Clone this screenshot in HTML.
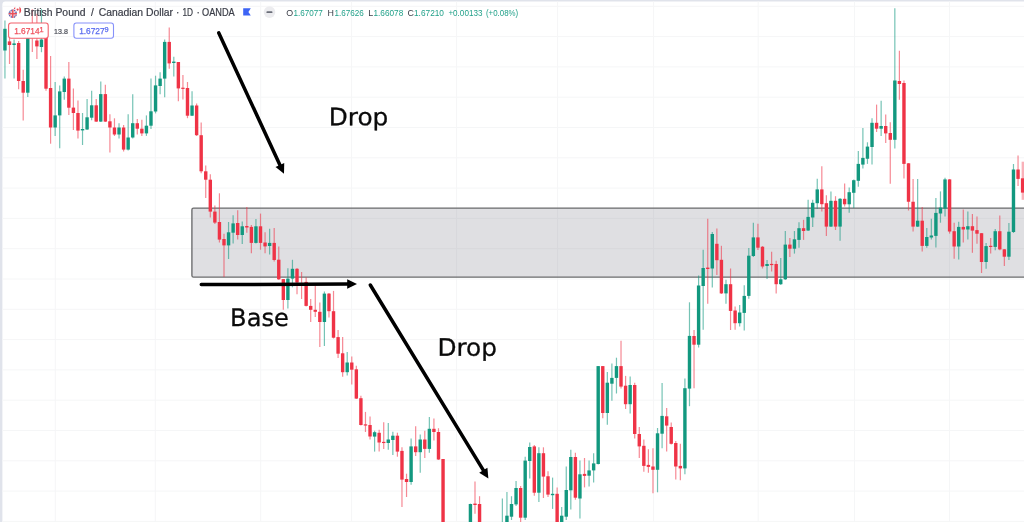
<!DOCTYPE html>
<html lang="en"><head><meta charset="utf-8"><title>GBPCAD Drop Base Drop</title>
<style>
html,body{margin:0;padding:0;background:#e0e3eb;}
body{width:1024px;height:522px;overflow:hidden;font-family:"Liberation Sans",sans-serif;}
svg{display:block;}
.t{font-family:"Liberation Sans",sans-serif;font-size:10.1px;}
.o{font-family:"Liberation Sans",sans-serif;font-size:8.9px;}
.big{font-family:"DejaVu Sans","Liberation Sans",sans-serif;font-size:24px;fill:#0a0a0a;stroke:#0a0a0a;stroke-width:0.3px;}
</style></head><body>
<svg width="1024" height="522" viewBox="0 0 1024 522">
<rect x="0" y="0" width="1024" height="522" fill="#e0e3eb"/>
<path d="M2.4 4.5 Q2.4 1.4 5.4 1.4 H1024 V522 H2.4 Z" fill="#ffffff"/>
<g stroke="#f5f6f7" stroke-width="1" fill="none">
<line x1="2.4" x2="1024" y1="6.3" y2="6.3"/>
<line x1="2.4" x2="1024" y1="36.6" y2="36.6"/>
<line x1="2.4" x2="1024" y1="66.9" y2="66.9"/>
<line x1="2.4" x2="1024" y1="97.2" y2="97.2"/>
<line x1="2.4" x2="1024" y1="127.5" y2="127.5"/>
<line x1="2.4" x2="1024" y1="157.8" y2="157.8"/>
<line x1="2.4" x2="1024" y1="188.1" y2="188.1"/>
<line x1="2.4" x2="1024" y1="218.4" y2="218.4"/>
<line x1="2.4" x2="1024" y1="248.7" y2="248.7"/>
<line x1="2.4" x2="1024" y1="279" y2="279"/>
<line x1="2.4" x2="1024" y1="309.3" y2="309.3"/>
<line x1="2.4" x2="1024" y1="339.6" y2="339.6"/>
<line x1="2.4" x2="1024" y1="369.9" y2="369.9"/>
<line x1="2.4" x2="1024" y1="400.2" y2="400.2"/>
<line x1="2.4" x2="1024" y1="430.5" y2="430.5"/>
<line x1="2.4" x2="1024" y1="460.8" y2="460.8"/>
<line x1="2.4" x2="1024" y1="491.1" y2="491.1"/>
<line x1="2.4" x2="1024" y1="521.4" y2="521.4"/>
<line y1="1.5" y2="522" x1="55.3" x2="55.3"/>
<line y1="1.5" y2="522" x1="155.3" x2="155.3"/>
<line y1="1.5" y2="522" x1="260.7" x2="260.7"/>
<line y1="1.5" y2="522" x1="351.6" x2="351.6"/>
<line y1="1.5" y2="522" x1="456.6" x2="456.6"/>
<line y1="1.5" y2="522" x1="557.6" x2="557.6"/>
<line y1="1.5" y2="522" x1="653.6" x2="653.6"/>
<line y1="1.5" y2="522" x1="758.2" x2="758.2"/>
<line y1="1.5" y2="522" x1="854.5" x2="854.5"/>
<line y1="1.5" y2="522" x1="949.5" x2="949.5"/>
</g>
<rect x="191.9" y="208.1" width="840" height="69" rx="1.6" fill="#787b86" fill-opacity="0.24" stroke="#6a6b6c" stroke-width="1.35"/>
<g stroke="#12987f" stroke-width="1.2" stroke-opacity="0.58" fill="none"><path d="M4.95 20.5V78.6"/><path d="M14.08 39.5V78.6"/><path d="M27.77 30V97"/><path d="M41.46 8.8V52.2"/><path d="M55.15 82V135.9"/><path d="M59.71 85.4V148.2"/><path d="M64.28 76.6V99.8"/><path d="M82.53 113V145"/><path d="M87.09 98.9V130"/><path d="M91.66 90.8V120.3"/><path d="M100.78 81.5V122"/><path d="M119.04 123.2V138.4"/><path d="M128.16 114.3V150.5"/><path d="M132.73 94.2V138.4"/><path d="M146.42 115.4V135.9"/><path d="M150.98 78.6V129"/><path d="M155.55 75.7V113.4"/><path d="M160.11 72.3V94.2"/><path d="M164.67 39.5V97.2"/><path d="M173.8 56.7V76.6"/><path d="M192.05 91.2V116"/><path d="M228.56 222V259"/><path d="M233.12 215.2V243.5"/><path d="M242.25 221.6V244"/><path d="M255.94 219V243.5"/><path d="M269.63 228.8V254.6"/><path d="M287.89 268.2V308.4"/><path d="M292.45 259.8V287.3"/><path d="M324.4 291.6V346"/><path d="M347.21 352V375.5"/><path d="M374.59 430.7V451.6"/><path d="M388.28 423V449.7"/><path d="M392.85 431.7V455"/><path d="M411.1 438.6V484.8"/><path d="M420.23 434.6V472.7"/><path d="M429.36 417V452.8"/><path d="M470.43 503.6V545"/><path d="M502.37 498.5V545"/><path d="M506.94 491.9V535"/><path d="M511.5 496.2V520"/><path d="M516.06 481V506"/><path d="M525.19 456.7V520"/><path d="M529.75 442.5V478.6"/><path d="M538.88 447.3V502"/><path d="M552.57 477.6V508.9"/><path d="M561.7 507V535"/><path d="M566.26 466.5V520"/><path d="M570.82 449.7V509.5"/><path d="M579.95 460.6V518.6"/><path d="M589.08 460.6V486.4"/><path d="M593.64 453.2V482.5"/><path d="M598.21 366V464.5"/><path d="M607.33 372V424.8"/><path d="M611.9 363.6V400.7"/><path d="M616.46 357.7V393.5"/><path d="M630.15 376.5V413.6"/><path d="M657.53 428V492.3"/><path d="M662.09 383.1V448.3"/><path d="M684.91 378.4V474.3"/><path d="M689.48 302.3V406.2"/><path d="M698.6 275.4V347.6"/><path d="M703.17 249.7V329.7"/><path d="M712.29 232V287.5"/><path d="M725.98 279.7V303.7"/><path d="M739.67 305V326.5"/><path d="M744.24 285.2V330.5"/><path d="M748.8 248V298.8"/><path d="M753.36 222.7V257"/><path d="M767.05 260.1V278.9"/><path d="M780.75 257.9V285"/><path d="M785.31 231V280"/><path d="M794.44 231V253.6"/><path d="M799 222.3V247.7"/><path d="M808.13 199.7V231"/><path d="M812.69 199.7V227"/><path d="M817.25 178.8V209"/><path d="M830.94 191.4V227"/><path d="M840.07 198V240.8"/><path d="M849.2 187.4V212.8"/><path d="M853.76 179.5V208.1"/><path d="M858.32 151V186.7"/><path d="M862.89 128V168.5"/><path d="M867.45 142.3V163.9"/><path d="M872.02 118.3V164.6"/><path d="M881.14 100.7V135.9"/><path d="M894.83 8.2V148.6"/><path d="M917.65 178.9V227"/><path d="M926.78 228.1V247.7"/><path d="M931.34 218.75V239.5"/><path d="M935.9 197.9V247.5"/><path d="M940.47 191.4V222.7"/><path d="M945.03 177.7V216.4"/><path d="M958.72 221.7V259.5"/><path d="M967.85 211.5V239.5"/><path d="M986.1 242.9V268.8"/><path d="M995.23 228.9V250.3"/><path d="M1008.92 223.1V260"/><path d="M1013.48 164V233"/></g>
<g stroke="#ef3346" stroke-width="1.2" stroke-opacity="0.58" fill="none"><path d="M9.51 36V64"/><path d="M18.64 41V89.3"/><path d="M23.2 69.8V120.5"/><path d="M32.33 9.3V52"/><path d="M36.89 13.7V59"/><path d="M46.02 35V90.7"/><path d="M50.59 56V143.7"/><path d="M68.84 62V115"/><path d="M73.4 88.4V130"/><path d="M77.97 100.6V138.4"/><path d="M96.22 98.9V122"/><path d="M105.35 84.8V122"/><path d="M109.91 114.3V152.5"/><path d="M114.47 118.3V136"/><path d="M123.6 125V151.5"/><path d="M137.29 118.9V134.5"/><path d="M141.85 119.7V135.9"/><path d="M169.24 27.4V68.8"/><path d="M178.36 62V101.2"/><path d="M182.93 75V99.5"/><path d="M187.49 82V118.2"/><path d="M196.62 103.4V136"/><path d="M201.18 122.5V173.2"/><path d="M205.74 165.4V198"/><path d="M210.31 174.2V217.5"/><path d="M214.87 205.4V224"/><path d="M219.43 193.3V242.5"/><path d="M224 233.7V277"/><path d="M237.69 210.3V239.6"/><path d="M246.82 207V232.7"/><path d="M251.38 225V253.2"/><path d="M260.51 213.6V249.7"/><path d="M265.07 232.3V253.2"/><path d="M274.2 227.9V261.6"/><path d="M278.76 246.4V280"/><path d="M283.32 279V309.8"/><path d="M297.01 268V294.2"/><path d="M301.58 272V299"/><path d="M306.14 277.2V306.5"/><path d="M310.7 299V322"/><path d="M315.27 285.4V317"/><path d="M319.83 302.6V347"/><path d="M328.96 293V317.6"/><path d="M333.52 290.9V338.5"/><path d="M338.09 330V358"/><path d="M342.65 337.1V376.7"/><path d="M351.78 356.6V384.5"/><path d="M356.34 365.8V399"/><path d="M360.9 395.7V425.5"/><path d="M365.47 411.9V432"/><path d="M370.03 416.6V439.4"/><path d="M379.16 429.8V451.6"/><path d="M383.72 422.3V448.9"/><path d="M397.41 432.7V456.7"/><path d="M401.97 447.3V507"/><path d="M406.54 473.7V497"/><path d="M415.67 426.3V456"/><path d="M424.79 430.7V458"/><path d="M433.92 418.5V440.5"/><path d="M438.48 428.2V460"/><path d="M443.05 459V545"/><path d="M474.99 481.5V513.75"/><path d="M479.55 496.2V545"/><path d="M520.63 486V523"/><path d="M534.32 445V495.8"/><path d="M543.44 447.3V498"/><path d="M548.01 471.2V497"/><path d="M557.13 487.4V535"/><path d="M575.39 452.8V499.7"/><path d="M584.51 458V487.4"/><path d="M602.77 366V418.3"/><path d="M621.02 340.7V388.6"/><path d="M625.59 375.9V409"/><path d="M634.71 382.7V438.5"/><path d="M639.28 427V458"/><path d="M643.84 439.5V471.75"/><path d="M648.4 449.3V472.7"/><path d="M652.97 448.3V493.2"/><path d="M666.66 408.1V451.6"/><path d="M671.22 422.5V444.5"/><path d="M675.78 441V479.6"/><path d="M680.35 443.8V480.2"/><path d="M694.04 330V388.2"/><path d="M707.73 218.8V303.7"/><path d="M716.86 228.6V275"/><path d="M721.42 245.8V294"/><path d="M730.55 268.5V330"/><path d="M735.11 306.6V329.7"/><path d="M757.93 223.7V250"/><path d="M762.49 246V268.5"/><path d="M771.62 251.8V271.5"/><path d="M776.18 260.8V293.4"/><path d="M789.87 238V256.9"/><path d="M803.56 219.8V239.9"/><path d="M821.82 166.2V211.4"/><path d="M826.38 195.3V236"/><path d="M835.51 196.2V230"/><path d="M844.63 183.6V206.6"/><path d="M876.58 104.6V132"/><path d="M885.71 114.4V143"/><path d="M890.27 122.2V183.7"/><path d="M899.4 50.8V99.7"/><path d="M903.96 80.5V178.6"/><path d="M908.52 163V210.5"/><path d="M913.09 178.9V231.6"/><path d="M922.21 207V251.6"/><path d="M949.59 179V233.6"/><path d="M954.16 222.8V258.7"/><path d="M963.29 209.6V242.6"/><path d="M972.41 214V252.8"/><path d="M976.98 216.4V243.8"/><path d="M981.54 233V273"/><path d="M990.67 238.1V253.6"/><path d="M999.79 215.4V250.3"/><path d="M1004.36 249V265.9"/><path d="M1018.05 155.5V186.1"/><path d="M1022.91 161.7V199.8" stroke-width="2.6" stroke-opacity="0.38"/></g>
<g fill="#12987f"><rect x="3.25" y="28.8" width="3.4" height="21.7"/><rect x="12.38" y="43.4" width="3.4" height="1.6"/><rect x="26.07" y="34" width="3.4" height="58.7"/><rect x="39.76" y="39.5" width="3.4" height="7.5"/><rect x="53.45" y="115.4" width="3.4" height="12.1"/><rect x="58.01" y="91.4" width="3.4" height="24"/><rect x="62.58" y="78.6" width="3.4" height="13.4"/><rect x="80.83" y="129" width="3.4" height="1.4"/><rect x="85.39" y="117.3" width="3.4" height="12.2"/><rect x="89.96" y="105.3" width="3.4" height="12.4"/><rect x="99.08" y="94.1" width="3.4" height="27.5"/><rect x="117.34" y="127.5" width="3.4" height="7"/><rect x="126.46" y="137.5" width="3.4" height="12.1"/><rect x="131.03" y="123.2" width="3.4" height="14.3"/><rect x="144.72" y="125.7" width="3.4" height="7.7"/><rect x="149.28" y="111.3" width="3.4" height="14.4"/><rect x="153.85" y="85.4" width="3.4" height="26.1"/><rect x="158.41" y="78.6" width="3.4" height="7.4"/><rect x="162.97" y="41.9" width="3.4" height="36.7"/><rect x="172.1" y="61.6" width="3.4" height="1.4"/><rect x="190.35" y="105.5" width="3.4" height="10.2"/><rect x="226.86" y="232.3" width="3.4" height="13.1"/><rect x="231.43" y="223.4" width="3.4" height="9.3"/><rect x="240.55" y="226.3" width="3.4" height="8.7"/><rect x="254.24" y="226.3" width="3.4" height="16.6"/><rect x="267.93" y="242.9" width="3.4" height="3.1"/><rect x="286.19" y="278.6" width="3.4" height="21.4"/><rect x="290.75" y="268.8" width="3.4" height="9.8"/><rect x="322.7" y="293.6" width="3.4" height="28.4"/><rect x="345.51" y="362.5" width="3.4" height="9.7"/><rect x="372.89" y="432.2" width="3.4" height="4.4"/><rect x="386.58" y="439.5" width="3.4" height="3.5"/><rect x="391.15" y="435.7" width="3.4" height="4.3"/><rect x="409.4" y="446.4" width="3.4" height="35.6"/><rect x="418.53" y="439.5" width="3.4" height="12.7"/><rect x="427.66" y="428.8" width="3.4" height="20.1"/><rect x="468.73" y="504" width="3.4" height="36"/><rect x="500.67" y="525" width="3.4" height="15"/><rect x="505.24" y="515.7" width="3.4" height="14.3"/><rect x="509.8" y="504" width="3.4" height="12.7"/><rect x="514.36" y="488" width="3.4" height="16.4"/><rect x="523.49" y="460.6" width="3.4" height="57.1"/><rect x="528.05" y="447" width="3.4" height="14"/><rect x="537.18" y="453.2" width="3.4" height="39.5"/><rect x="550.87" y="493.8" width="3.4" height="1.4"/><rect x="560" y="515.7" width="3.4" height="14.3"/><rect x="564.56" y="490" width="3.4" height="26.7"/><rect x="569.12" y="457" width="3.4" height="33.3"/><rect x="578.25" y="474.3" width="3.4" height="24.2"/><rect x="587.38" y="470.4" width="3.4" height="5.3"/><rect x="591.94" y="463.4" width="3.4" height="7"/><rect x="596.5" y="366.1" width="3.4" height="97.9"/><rect x="605.63" y="382.7" width="3.4" height="30.3"/><rect x="610.2" y="377.9" width="3.4" height="5.8"/><rect x="614.76" y="366.1" width="3.4" height="11.8"/><rect x="628.45" y="385" width="3.4" height="19.2"/><rect x="655.83" y="433.3" width="3.4" height="36.5"/><rect x="660.39" y="415.9" width="3.4" height="17.8"/><rect x="683.21" y="388.2" width="3.4" height="80.2"/><rect x="687.78" y="335.9" width="3.4" height="52.7"/><rect x="696.9" y="285.5" width="3.4" height="59.2"/><rect x="701.47" y="268" width="3.4" height="18"/><rect x="710.59" y="234" width="3.4" height="34.5"/><rect x="724.28" y="284.2" width="3.4" height="9.2"/><rect x="737.97" y="312.5" width="3.4" height="10.7"/><rect x="742.54" y="295.9" width="3.4" height="17"/><rect x="747.1" y="255.7" width="3.4" height="40.2"/><rect x="751.66" y="237.4" width="3.4" height="18.6"/><rect x="765.35" y="264" width="3.4" height="2"/><rect x="779.05" y="279.3" width="3.4" height="4.9"/><rect x="783.61" y="244.6" width="3.4" height="34.7"/><rect x="792.74" y="239.3" width="3.4" height="9.4"/><rect x="797.3" y="228.2" width="3.4" height="11.7"/><rect x="806.43" y="216.9" width="3.4" height="13.6"/><rect x="810.99" y="202.8" width="3.4" height="14.7"/><rect x="815.55" y="189.4" width="3.4" height="13.8"/><rect x="829.24" y="200.8" width="3.4" height="25.8"/><rect x="838.37" y="198.8" width="3.4" height="27.8"/><rect x="847.5" y="192.2" width="3.4" height="12.1"/><rect x="852.06" y="180.2" width="3.4" height="12.6"/><rect x="856.62" y="163.9" width="3.4" height="16.9"/><rect x="861.19" y="157.9" width="3.4" height="6.7"/><rect x="865.75" y="146.6" width="3.4" height="12.15"/><rect x="870.32" y="122.8" width="3.4" height="24.2"/><rect x="879.44" y="126" width="3.4" height="2.7"/><rect x="893.13" y="80.5" width="3.4" height="59.3"/><rect x="915.95" y="220.7" width="3.4" height="5.9"/><rect x="925.08" y="237" width="3.4" height="8.9"/><rect x="929.64" y="235.5" width="3.4" height="2"/><rect x="934.2" y="212.9" width="3.4" height="23"/><rect x="938.77" y="207.6" width="3.4" height="5.9"/><rect x="943.33" y="179.4" width="3.4" height="29.2"/><rect x="957.02" y="226.9" width="3.4" height="19.6"/><rect x="966.15" y="226.2" width="3.4" height="3.3"/><rect x="984.4" y="246.1" width="3.4" height="15.9"/><rect x="993.53" y="231.2" width="3.4" height="15.7"/><rect x="1007.22" y="231.7" width="3.4" height="25"/><rect x="1011.78" y="169.5" width="3.4" height="62.5"/></g>
<g fill="#ef3346"><rect x="7.81" y="41.4" width="3.4" height="3.6"/><rect x="16.94" y="43" width="3.4" height="38"/><rect x="21.5" y="81" width="3.4" height="11.7"/><rect x="30.63" y="36" width="3.4" height="1.2"/><rect x="35.19" y="40.5" width="3.4" height="5.9"/><rect x="44.32" y="37" width="3.4" height="51.7"/><rect x="48.89" y="88" width="3.4" height="39.5"/><rect x="67.14" y="78.6" width="3.4" height="29.1"/><rect x="71.7" y="107.6" width="3.4" height="5.4"/><rect x="76.27" y="113" width="3.4" height="17.6"/><rect x="94.52" y="105.3" width="3.4" height="16.3"/><rect x="103.65" y="94.1" width="3.4" height="27.5"/><rect x="108.21" y="121.3" width="3.4" height="6.2"/><rect x="112.77" y="127.5" width="3.4" height="7"/><rect x="121.9" y="127.5" width="3.4" height="22.1"/><rect x="135.59" y="123.2" width="3.4" height="5.5"/><rect x="140.16" y="128.7" width="3.4" height="4.7"/><rect x="167.54" y="41.9" width="3.4" height="21.5"/><rect x="176.66" y="62" width="3.4" height="26.4"/><rect x="181.23" y="87.7" width="3.4" height="1.2"/><rect x="185.79" y="88" width="3.4" height="27.7"/><rect x="194.92" y="105.5" width="3.4" height="29.7"/><rect x="199.48" y="135.2" width="3.4" height="36.1"/><rect x="204.04" y="171.3" width="3.4" height="8.4"/><rect x="208.61" y="179.7" width="3.4" height="31.9"/><rect x="213.17" y="211.6" width="3.4" height="11"/><rect x="217.73" y="222" width="3.4" height="17.6"/><rect x="222.3" y="239" width="3.4" height="6.4"/><rect x="235.99" y="223" width="3.4" height="12"/><rect x="245.12" y="226" width="3.4" height="1.5"/><rect x="249.68" y="226.9" width="3.4" height="16"/><rect x="258.81" y="226.3" width="3.4" height="16.6"/><rect x="263.37" y="242.5" width="3.4" height="3.9"/><rect x="272.5" y="242.9" width="3.4" height="17.1"/><rect x="277.06" y="259.7" width="3.4" height="19.6"/><rect x="281.62" y="279.1" width="3.4" height="20.9"/><rect x="295.31" y="268.8" width="3.4" height="13.7"/><rect x="304.44" y="281.9" width="3.4" height="24"/><rect x="309" y="305.9" width="3.4" height="3.9"/><rect x="313.57" y="309.8" width="3.4" height="2"/><rect x="318.13" y="311.8" width="3.4" height="10.2"/><rect x="327.26" y="293.6" width="3.4" height="17.6"/><rect x="331.82" y="311.2" width="3.4" height="26.5"/><rect x="336.39" y="337.1" width="3.4" height="16.6"/><rect x="340.95" y="353.3" width="3.4" height="18.9"/><rect x="350.08" y="362.5" width="3.4" height="7.2"/><rect x="354.64" y="369.3" width="3.4" height="29.3"/><rect x="359.2" y="398.2" width="3.4" height="26.8"/><rect x="363.77" y="424.35" width="3.4" height="1.2"/><rect x="368.33" y="425" width="3.4" height="11.5"/><rect x="377.46" y="432.8" width="3.4" height="9.7"/><rect x="382.02" y="441.85" width="3.4" height="1.2"/><rect x="395.71" y="435.7" width="3.4" height="15.9"/><rect x="400.27" y="450.9" width="3.4" height="28.7"/><rect x="404.84" y="479" width="3.4" height="3"/><rect x="413.97" y="446.4" width="3.4" height="5.8"/><rect x="423.09" y="439.5" width="3.4" height="9.4"/><rect x="432.22" y="428.8" width="3.4" height="3.2"/><rect x="436.78" y="432" width="3.4" height="27.5"/><rect x="441.35" y="459" width="3.4" height="81"/><rect x="473.29" y="503.6" width="3.4" height="1.4"/><rect x="477.85" y="504" width="3.4" height="36"/><rect x="518.93" y="488" width="3.4" height="29.7"/><rect x="532.62" y="446.4" width="3.4" height="46.3"/><rect x="541.74" y="453.2" width="3.4" height="23.4"/><rect x="546.31" y="476.25" width="3.4" height="18.35"/><rect x="555.43" y="493.8" width="3.4" height="36.2"/><rect x="573.69" y="457" width="3.4" height="40.7"/><rect x="582.81" y="473.9" width="3.4" height="2"/><rect x="601.07" y="366.1" width="3.4" height="46.9"/><rect x="619.32" y="366.1" width="3.4" height="20.5"/><rect x="623.89" y="385.7" width="3.4" height="18.5"/><rect x="633.01" y="385" width="3.4" height="49"/><rect x="637.58" y="434" width="3.4" height="12.4"/><rect x="642.14" y="445.8" width="3.4" height="20.1"/><rect x="646.7" y="464.9" width="3.4" height="2"/><rect x="651.27" y="466.5" width="3.4" height="3.3"/><rect x="664.96" y="416.3" width="3.4" height="9.3"/><rect x="669.52" y="427" width="3.4" height="16.8"/><rect x="674.08" y="443" width="3.4" height="23.5"/><rect x="678.65" y="465.9" width="3.4" height="2.5"/><rect x="692.34" y="336" width="3.4" height="8.7"/><rect x="706.03" y="267.6" width="3.4" height="1.4"/><rect x="715.16" y="243.8" width="3.4" height="16.4"/><rect x="719.72" y="259.8" width="3.4" height="33.6"/><rect x="728.85" y="284.2" width="3.4" height="26.7"/><rect x="733.41" y="310.5" width="3.4" height="12.7"/><rect x="756.23" y="237.4" width="3.4" height="10.3"/><rect x="760.79" y="246.75" width="3.4" height="19.75"/><rect x="769.92" y="263.9" width="3.4" height="1.2"/><rect x="774.48" y="264" width="3.4" height="20.2"/><rect x="788.17" y="244.6" width="3.4" height="4.1"/><rect x="801.86" y="228.2" width="3.4" height="2.8"/><rect x="820.12" y="189.4" width="3.4" height="14.8"/><rect x="824.68" y="203.2" width="3.4" height="23.4"/><rect x="833.81" y="200.8" width="3.4" height="25.8"/><rect x="842.93" y="198.8" width="3.4" height="5.5"/><rect x="874.88" y="122.8" width="3.4" height="5.9"/><rect x="884.01" y="126" width="3.4" height="7.4"/><rect x="888.57" y="133" width="3.4" height="6.8"/><rect x="897.7" y="81" width="3.4" height="3"/><rect x="902.26" y="83" width="3.4" height="80.9"/><rect x="906.82" y="163.3" width="3.4" height="38.45"/><rect x="911.39" y="201.75" width="3.4" height="24.85"/><rect x="920.51" y="220.7" width="3.4" height="25.2"/><rect x="947.89" y="179.4" width="3.4" height="52.1"/><rect x="952.46" y="231.2" width="3.4" height="15.3"/><rect x="961.59" y="226.9" width="3.4" height="2.6"/><rect x="970.71" y="226.2" width="3.4" height="4.4"/><rect x="975.28" y="230.1" width="3.4" height="3.6"/><rect x="979.84" y="233.2" width="3.4" height="28.8"/><rect x="988.97" y="245.8" width="3.4" height="1.2"/><rect x="998.09" y="231.2" width="3.4" height="18.2"/><rect x="1002.66" y="249.3" width="3.4" height="7.4"/><rect x="1016.35" y="169.5" width="3.4" height="9.4"/><rect x="1020.91" y="178.3" width="3.4" height="14.3"/></g>
<line x1="218.8" y1="32.9" x2="280.72" y2="166.72" stroke="#000" stroke-width="3.5" stroke-linecap="round"/><polygon points="284,173.8 275.53,166.92 284.24,162.89" fill="#000"/>
<line x1="201.3" y1="284.6" x2="349.2" y2="284.03" stroke="#000" stroke-width="3.5" stroke-linecap="round"/><polygon points="357,284 347.22,288.84 347.18,279.24" fill="#000"/>
<line x1="370.3" y1="285" x2="484.34" y2="471.84" stroke="#000" stroke-width="3.5" stroke-linecap="round"/><polygon points="488.4,478.5 479.2,472.64 487.39,467.63" fill="#000"/>
<text class="big" transform="translate(328.7,125.3) rotate(0.03) scale(1.032,1)">Drop</text>
<text class="big" transform="translate(230.1,325.95) rotate(0.03) scale(1.005,1)">Base</text>
<text class="big" transform="translate(437.4,355.85) rotate(0.03) scale(1.032,1)">Drop</text>
<defs><clipPath id="ca"><circle cx="17.4" cy="10.3" r="3.7"/></clipPath><clipPath id="uk"><circle cx="12.8" cy="13.7" r="4.2"/></clipPath></defs>
<g clip-path="url(#ca)"><rect x="13" y="6" width="9" height="9" fill="#ffffff"/><rect x="19.4" y="6" width="3" height="9" fill="#ea4650"/><rect x="13" y="6" width="2.2" height="9" fill="#ea4650"/><circle cx="17.6" cy="9.6" r="1.1" fill="#ea4650"/></g>
<circle cx="12.8" cy="13.7" r="4.9" fill="#ffffff"/>
<g clip-path="url(#uk)"><rect x="8" y="9" width="10" height="10" fill="#3f4fa6"/>
<g stroke="#ffffff" stroke-width="1.3"><path d="M9.4 10.3L16.2 17.1M16.2 10.3L9.4 17.1"/></g>
<g stroke="#e0444f" stroke-width="0.5"><path d="M9.4 10.3L16.2 17.1M16.2 10.3L9.4 17.1"/></g>
<g stroke="#ffffff" stroke-width="2.1"><path d="M12.8 9V18.4M8 13.7H17.6"/></g>
<g stroke="#e8505a" stroke-width="1.5"><path d="M12.8 9V18.4M8 13.7H17.6"/></g></g>
<text class="t" y="15.7" fill="#3a3d47" stroke="#3a3d47" stroke-width="0.2"><tspan x="23.75" textLength="61.7" lengthAdjust="spacingAndGlyphs">British Pound</tspan> <tspan x="90.9">/</tspan> <tspan x="98.75" textLength="74.2" lengthAdjust="spacingAndGlyphs">Canadian Dollar</tspan> <tspan x="176">·</tspan> <tspan x="182.4" textLength="10.6" lengthAdjust="spacingAndGlyphs">1D</tspan> <tspan x="196.4">·</tspan> <tspan x="202" textLength="32.7" lengthAdjust="spacingAndGlyphs">OANDA</tspan></text>
<path d="M243.2 8.2H250.8L248.4 11.9L250.8 15.6H243.2Z" fill="#3d64f5"/>
<circle cx="269.5" cy="12.1" r="5.8" fill="#ececef"/>
<rect x="266.4" y="11.3" width="6.1" height="1.8" rx="0.9" fill="#6a6d78"/>
<text class="o" x="286.3" y="15.7" fill="#3a3d47">O</text>
<text class="o" x="293.4" y="15.7" fill="#22a18a" textLength="29.3" lengthAdjust="spacingAndGlyphs">1.67077</text>
<text class="o" x="327.4" y="15.7" fill="#3a3d47">H</text>
<text class="o" x="334.4" y="15.7" fill="#22a18a" textLength="29.3" lengthAdjust="spacingAndGlyphs">1.67626</text>
<text class="o" x="368.2" y="15.7" fill="#3a3d47">L</text>
<text class="o" x="373.5" y="15.7" fill="#22a18a" textLength="29.8" lengthAdjust="spacingAndGlyphs">1.66078</text>
<text class="o" x="407.6" y="15.7" fill="#3a3d47">C</text>
<text class="o" x="414" y="15.7" fill="#22a18a" textLength="30" lengthAdjust="spacingAndGlyphs">1.67210</text>
<text class="o" x="448.4" y="15.7" fill="#22a18a" textLength="34" lengthAdjust="spacingAndGlyphs">+0.00133</text>
<text class="o" x="486" y="15.7" fill="#22a18a" textLength="32.2" lengthAdjust="spacingAndGlyphs">(+0.08%)</text>
<rect x="8.6" y="23" width="39.6" height="15.2" rx="2.4" fill="#ffffff" stroke="#f2606b" stroke-width="1.1"/>
<text class="t" x="14.2" y="33.7" fill="#f0525e" stroke="#f0525e" stroke-width="0.25" style="font-size:8.3px">1.6714<tspan dy="-1.3" style="font-size:7.3px">1</tspan></text>
<text class="t" x="54.1" y="33.7" fill="#4a4d57" stroke="#4a4d57" stroke-width="0.2" style="font-size:7.3px" textLength="13.8" lengthAdjust="spacingAndGlyphs">13.8</text>
<rect x="73.9" y="23" width="39.6" height="15.2" rx="2.4" fill="#ffffff" stroke="#8792fa" stroke-width="1.1"/>
<text class="t" x="79.2" y="33.7" fill="#5b6cf0" stroke="#5b6cf0" stroke-width="0.25" style="font-size:8.3px">1.6727<tspan dy="-1.3" style="font-size:7.3px">9</tspan></text>
</svg></body></html>
